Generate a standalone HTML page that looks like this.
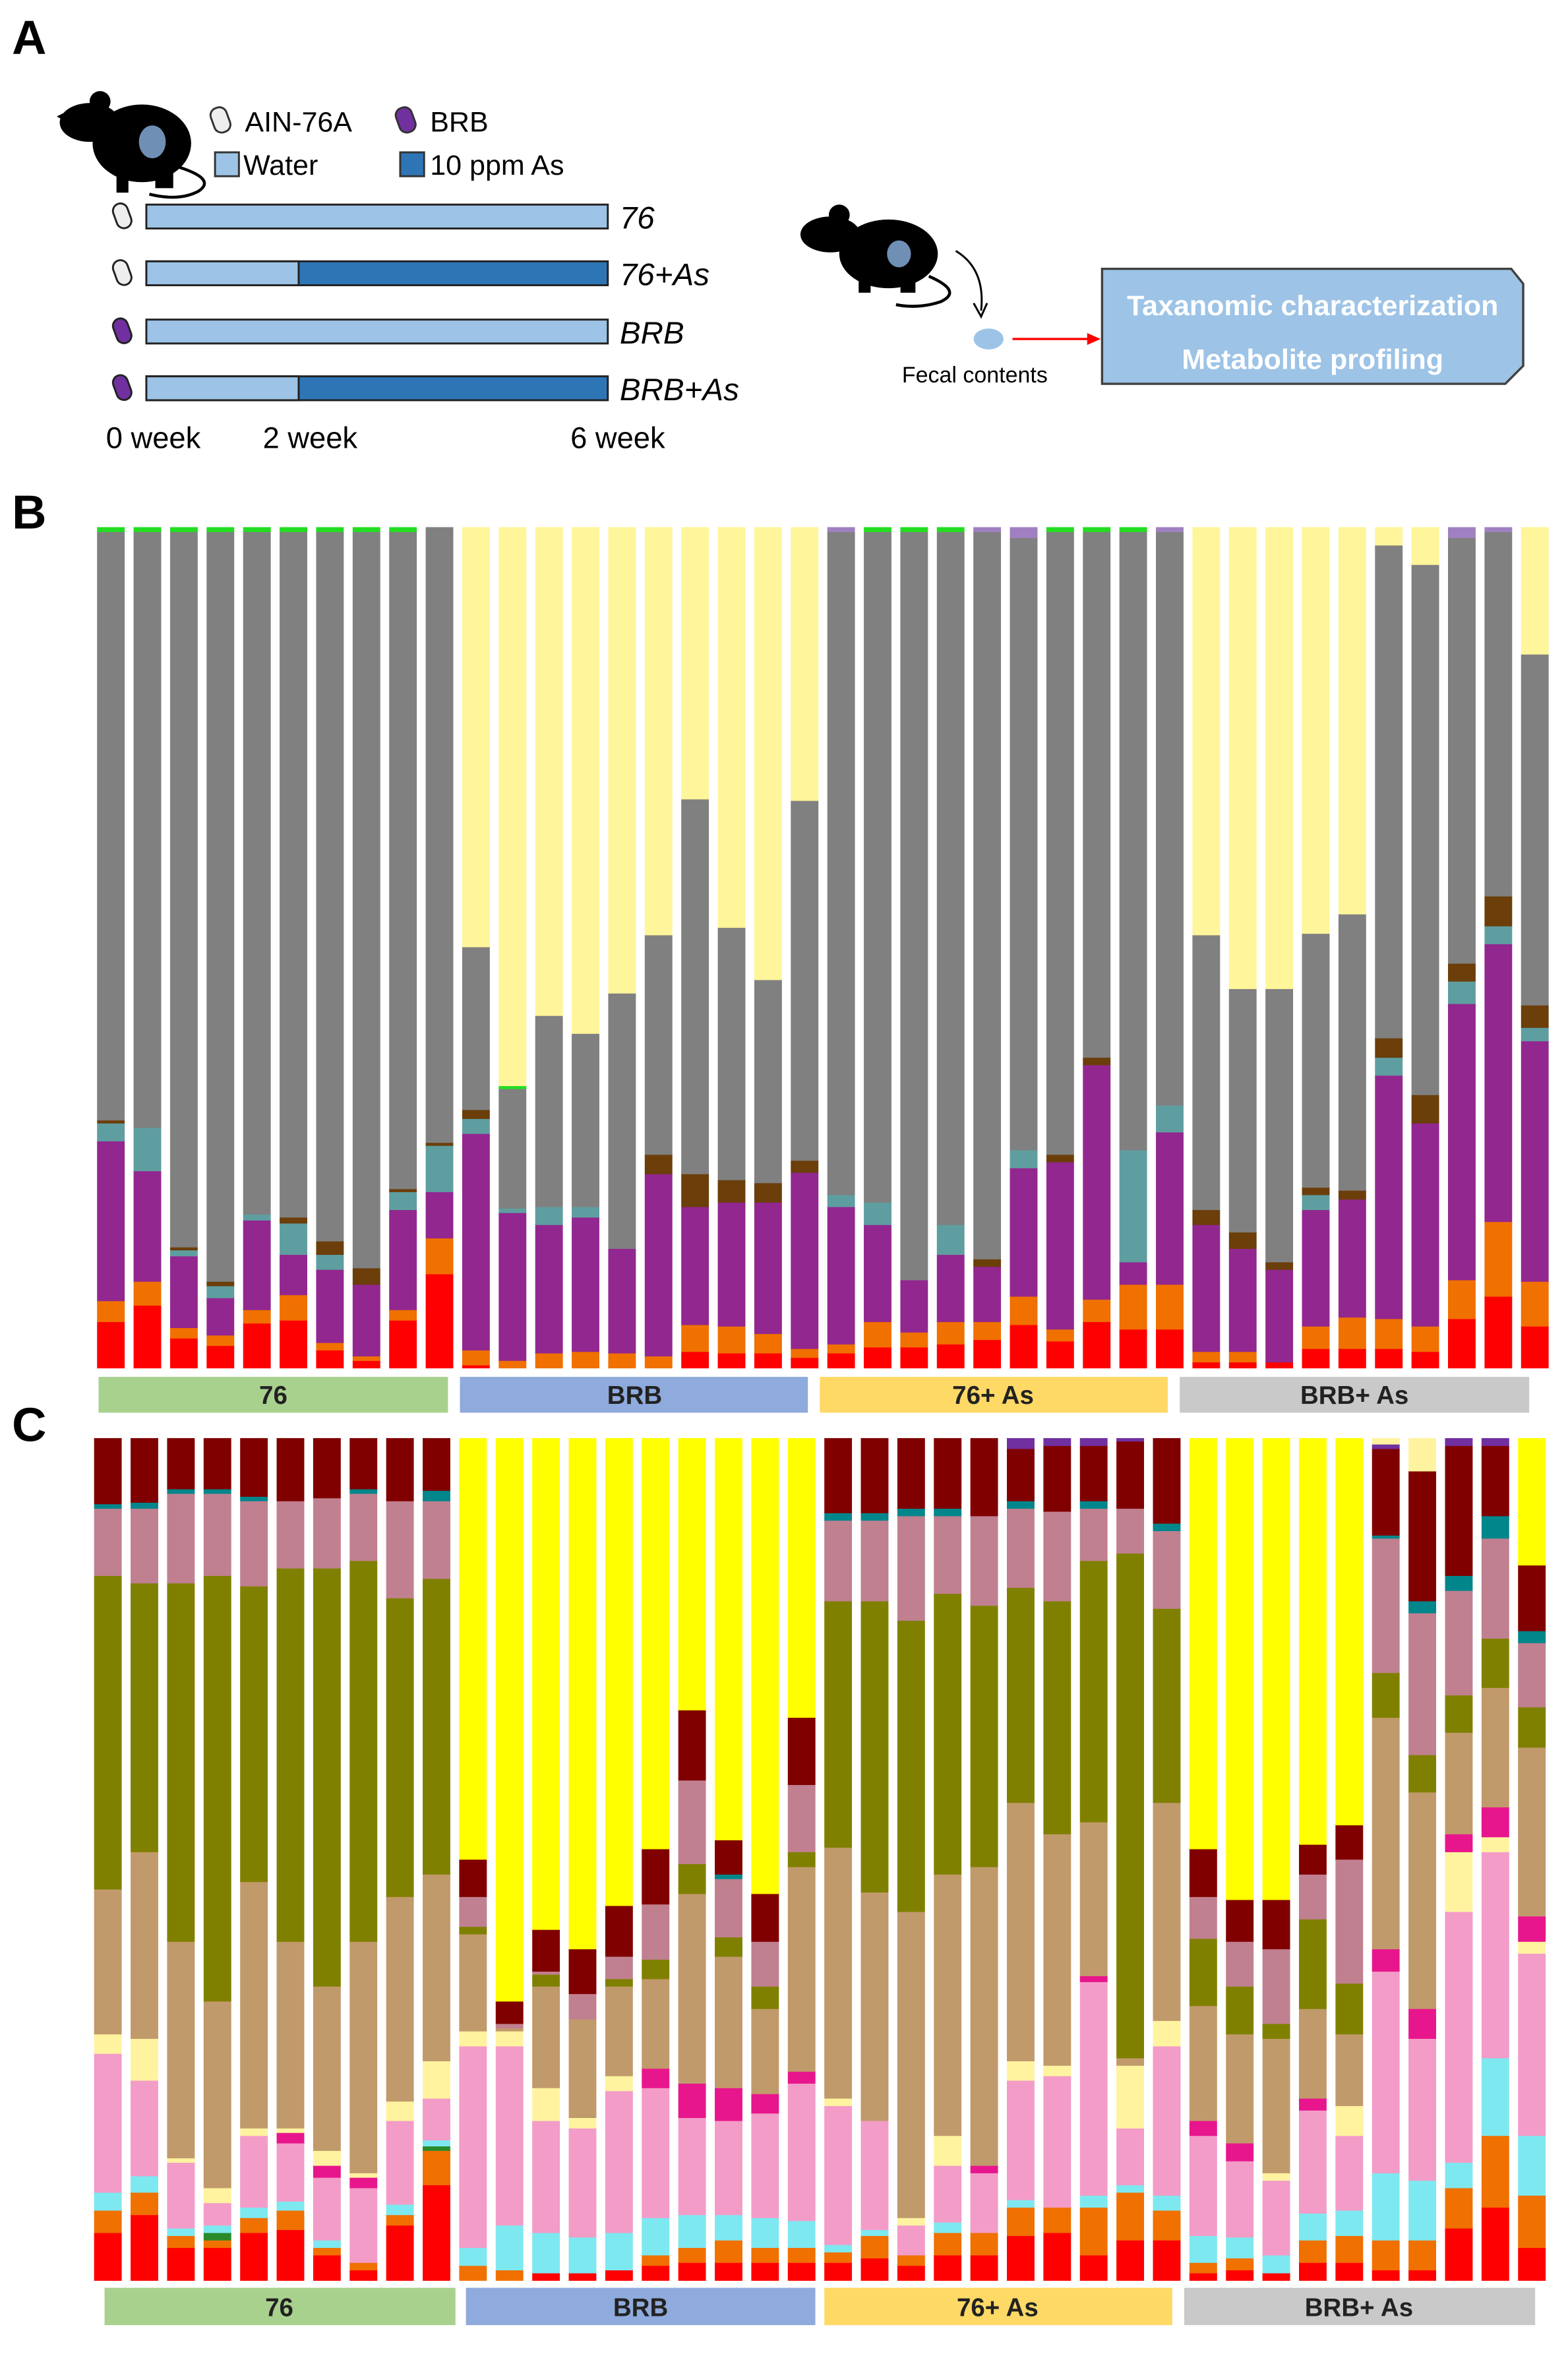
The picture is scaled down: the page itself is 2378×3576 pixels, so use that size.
<!DOCTYPE html>
<html><head><meta charset="utf-8"><style>
html,body{margin:0;padding:0;background:#fff;}
svg{display:block;}
text{font-family:"Liberation Sans",Arial,sans-serif;}
</style></head><body>
<svg id="s" width="2378" height="3576" viewBox="0 0 1050 1579" preserveAspectRatio="none" xmlns="http://www.w3.org/2000/svg">
<rect width="1050" height="1579" fill="#fff"/>
<text x="8" y="36" font-size="32" font-weight="bold">A</text>
<text x="8" y="354" font-size="32" font-weight="bold">B</text>
<text x="8" y="965" font-size="32" font-weight="bold">C</text>
<g fill="#000">
<ellipse cx="95" cy="96" rx="33" ry="26"/>
<ellipse cx="60" cy="82" rx="20" ry="13"/>
<circle cx="67" cy="68" r="7"/>
<path d="M38,78 L50,72 L52,86 Z"/>
<rect x="78" y="115" width="8" height="14"/>
<rect x="104" y="112" width="12" height="14"/>
</g>
<ellipse cx="102" cy="95" rx="9" ry="11" fill="#6f8fb5"/>
<path d="M120,112 Q145,120 133,128 Q120,135 100,130" fill="none" stroke="#000" stroke-width="2"/>
<g stroke="#333" stroke-width="1.3">
<rect x="142" y="72" width="11" height="17" rx="5" fill="#eee" transform="rotate(-20 147 80)"/>
<rect x="266" y="72" width="11" height="17" rx="5" fill="#7030a0" transform="rotate(-20 271 80)"/>
<rect x="144" y="102" width="16" height="16" fill="#9dc3e6"/>
<rect x="268" y="102" width="16" height="16" fill="#2e75b6"/>
</g>
<text x="164" y="88" font-size="19">AIN-76A</text>
<text x="288" y="88" font-size="19">BRB</text>
<text x="163" y="117" font-size="19">Water</text>
<text x="288" y="117" font-size="19">10 ppm As</text>
<g stroke="#222" stroke-width="1.3">
<rect x="98" y="137" width="309" height="16" fill="#9dc3e6"/>
<rect x="98" y="175" width="309" height="16" fill="#2e75b6"/><rect x="98" y="175" width="102" height="16" fill="#9dc3e6"/>
<rect x="98" y="214" width="309" height="16" fill="#9dc3e6"/>
<rect x="98" y="252" width="309" height="16" fill="#2e75b6"/><rect x="98" y="252" width="102" height="16" fill="#9dc3e6"/>
<rect x="77" y="136" width="10" height="17" rx="5" fill="#eee" transform="rotate(-20 82 145)"/>
<rect x="77" y="174" width="10" height="17" rx="5" fill="#eee" transform="rotate(-20 82 183)"/>
<rect x="77" y="213" width="10" height="17" rx="5" fill="#7030a0" transform="rotate(-20 82 222)"/>
<rect x="77" y="251" width="10" height="17" rx="5" fill="#7030a0" transform="rotate(-20 82 260)"/>
</g>
<g font-size="21" font-style="italic">
<text x="415" y="153">76</text><text x="415" y="191">76+As</text><text x="415" y="230">BRB</text><text x="415" y="268">BRB+As</text>
</g>
<g font-size="20"><text x="71" y="300">0 week</text><text x="176" y="300">2 week</text><text x="382" y="300">6 week</text></g>
<g fill="#000">
<ellipse cx="595" cy="170" rx="33" ry="23"/>
<ellipse cx="556" cy="157" rx="20" ry="12"/>
<circle cx="562" cy="144" r="7"/>
<rect x="575" y="185" width="8" height="11"/><rect x="603" y="185" width="10" height="11"/>
</g>
<ellipse cx="602" cy="170" rx="8" ry="9" fill="#6f8fb5"/>
<path d="M622,185 Q645,195 630,202 Q615,207 600,204" fill="none" stroke="#000" stroke-width="2"/>
<path d="M640,168 Q660,180 657,208" fill="none" stroke="#000" stroke-width="1.3"/>
<path d="M652,203 L657,212 L661,203" fill="none" stroke="#000" stroke-width="1.3"/>
<ellipse cx="662" cy="227" rx="10" ry="7" fill="#9dc3e6"/>
<text x="604" y="256" font-size="15">Fecal contents</text>
<line x1="678" y1="227" x2="730" y2="227" stroke="#f00" stroke-width="1.5"/>
<path d="M728,223 L737,227 L728,231 Z" fill="#f00"/>
<path d="M738,180 L1012,180 L1020,190 L1020,245 L1008,257 L738,257 Z" fill="#9dc3e6" stroke="#404040" stroke-width="1.5"/>
<g font-size="19" font-weight="bold" fill="#fff" text-anchor="middle">
<text x="879" y="211">Taxanomic characterization</text><text x="879" y="247">Metabolite profiling</text></g>
<g id="B"></g><g id="C"></g>
<rect x="66" y="922" width="234" height="24" fill="#a9d18e"/>
<rect x="308" y="922" width="233" height="24" fill="#8faadc"/>
<rect x="549" y="922" width="233" height="24" fill="#ffd966"/>
<rect x="790" y="922" width="234" height="24" fill="#c9c9c9"/>
<rect x="70" y="1532" width="235" height="25" fill="#a9d18e"/>
<rect x="312" y="1532" width="234" height="25" fill="#8faadc"/>
<rect x="552" y="1532" width="233" height="25" fill="#ffd966"/>
<rect x="793" y="1532" width="235" height="25" fill="#c9c9c9"/>
<g font-size="17" font-weight="bold" text-anchor="middle" fill="#222">
<text x="183" y="940">76</text><text x="425" y="940">BRB</text><text x="665" y="940">76+ As</text><text x="907" y="940">BRB+ As</text>
<text x="187" y="1551">76</text><text x="429" y="1551">BRB</text><text x="668" y="1551">76+ As</text><text x="910" y="1551">BRB+ As</text>
</g>
</svg>
<script>
var cb={r:"#ff0000",o:"#f07000",p:"#92278f",t:"#5f9ea0",b:"#6b3e0a",g:"#808080",y:"#fff59a",G:"#22dd22",V:"#a080c0"};
var cc={r:"#ff0000",o:"#f07000",n:"#2a8a2a",c:"#7ee8f0",l:"#fff3a0",k:"#f39cc8",m:"#e8168c",a:"#c19a6b",v:"#808000",u:"#c08090",t:"#00868b",d:"#800000",p:"#7030a0",y:"#ffff00"};
var B=["r885 o871 p764 t752 b750 g356 G353","r874 o858 p784 t755 g356 G353","r896 o889 p841 t837 b835 g356 G353","r901 o894 p869 t861 b858 g356 G353","r886 o877 p817 t813 g356 G353","r884 o867 p840 t819 b815 g356 G353","r904 o899 p850 t840 b831 g356 G353","r911 o908 p860 b849 g356 G353","r884 o877 p810 t798 b796 g356 G353","r853 o829 p798 t767 b765 g353",
"r914 o904 p759 t749 b743 g634 y353","o911 p812 t809 g729 G727 y353","o906 p820 t808 g680 y353","o905 p815 t808 g692 y353","o906 p836 g665 y353","o908 p786 b773 g626 y353","r905 o887 p808 b786 g535 y353","r906 o888 p805 b790 g621 y353","r906 o893 p805 b792 g656 y353","r909 o903 p785 b777 g536 y353",
"r906 o900 p808 t800 g356 V353","r902 o885 p820 t805 g356 G353","r902 o892 p857 g356 G353","r900 o885 p840 t820 g356 G353","r897 o885 p848 b843 g356 V353","r887 o868 p782 t770 g360 V353","r898 o890 p778 b773 g356 G353","r885 o870 p713 b708 g356 G353","r890 o860 p845 t770 g356 G353","r890 o860 p758 t740 g356 V353",
"r912 o905 p820 b810 g626 y353","r912 o905 p836 b825 g662 y353","r912 p850 b845 g662 y353","r903 o888 p810 t800 b795 g625 y353","r903 o882 p803 b797 g612 y353","r903 o883 p720 t708 b695 g365 y353","r905 o888 p752 b733 g378 y353","r883 o857 p672 t657 b645 g360 V353","r868 o818 p632 t620 b600 g356 V353","r888 o858 p697 t688 b673 g438 y353"];
var C=["r1495 o1480 c1468 k1375 l1362 a1265 v1055 u1010 t1007 d963","r1483 o1468 c1457 k1393 l1365 a1240 v1060 u1010 t1006 d963","r1505 o1497 c1492 k1448 l1445 a1300 v1060 u1000 t997 d963","r1505 o1500 n1495 c1490 k1475 l1465 a1340 v1055 u1000 t997 d963","r1495 o1485 c1478 k1430 l1425 a1260 v1062 u1005 t1002 d963","r1493 o1480 c1474 k1435 m1428 l1425 a1300 v1050 u1005 d963","r1510 o1505 c1500 k1458 m1450 l1440 a1330 v1050 u1003 d963","r1520 o1515 k1465 m1458 l1455 a1300 v1045 u1000 t997 d963","r1490 o1483 c1476 k1420 l1407 a1270 v1070 u1005 d963","r1463 o1440 n1437 c1433 k1405 l1380 a1255 v1057 u1005 t998 d963",
"o1517 c1505 k1370 l1360 a1295 v1290 u1270 d1245 y963","o1520 c1490 k1370 l1360 a1358 u1355 d1340 y963","r1522 c1495 k1420 l1398 a1330 v1322 u1320 d1292 y963","r1522 c1498 k1425 l1418 a1352 u1335 d1305 y963","r1520 c1495 k1400 l1390 a1330 v1325 u1310 d1276 y963","r1517 o1510 c1485 k1398 m1385 a1325 v1312 u1275 d1238 y963","r1515 o1505 c1483 k1418 m1395 a1268 v1248 u1192 d1145 y963","r1515 o1500 c1483 k1420 m1398 a1310 v1297 u1258 t1255 d1232 y963","r1515 o1505 c1485 k1415 m1402 a1345 v1330 u1300 d1268 y963","r1515 o1505 c1487 k1395 m1387 a1250 v1240 u1195 d1150 y963",
"r1515 o1508 c1503 k1410 l1405 a1237 v1072 u1018 t1013 d963","r1512 o1497 c1493 k1420 a1267 v1072 u1018 t1013 d963","r1517 o1510 k1490 l1485 a1280 v1085 u1015 t1010 d963","r1510 o1495 c1488 k1450 l1430 a1255 v1067 u1015 t1010 d963","r1510 o1495 k1455 m1450 a1250 v1075 u1015 d963","r1497 o1478 c1473 k1393 l1380 a1207 v1063 u1010 t1005 d970 p963","r1495 o1478 k1390 l1383 a1228 v1072 u1012 d968 p963","r1510 o1478 c1470 k1327 m1323 a1220 v1045 u1010 t1005 d968 p963","r1500 o1468 c1463 k1425 l1383 a1378 v1040 u1010 d965 p963","r1500 o1480 c1470 k1370 l1353 a1207 v1077 u1025 t1020 d963",
"r1522 o1515 c1497 k1430 m1420 a1343 v1298 u1270 d1238 y963","r1520 o1512 c1498 k1447 m1435 a1362 v1330 u1300 d1272 y963","r1522 c1510 k1460 l1455 a1365 v1355 u1305 d1272 y963","r1515 o1500 c1482 k1413 m1405 a1345 v1285 u1255 d1235 y963","r1515 o1497 c1480 k1430 l1410 a1362 v1328 u1245 d1222 y963","r1520 o1500 c1455 k1320 m1305 a1150 v1120 u1030 t1028 d970 p967 l963","r1520 o1500 c1460 k1365 m1345 a1200 v1175 u1080 t1072 d985 l963","r1492 o1465 c1448 k1280 l1240 m1228 a1160 v1135 u1065 t1055 d968 p963","r1478 o1430 c1378 k1240 l1230 m1210 a1130 v1097 u1030 t1015 d968 p963","r1505 o1470 c1430 k1308 l1300 m1283 a1170 v1143 u1100 t1092 d1048 y963"];
function draw(id,data,cols,bottom,x0,pitch,w){
 var g=document.getElementById(id),h="";
 data.forEach(function(s,i){var x=x0+i*pitch,prev=bottom;
  s.split(" ").forEach(function(t){var k=t[0],y=parseFloat(t.slice(1));
   h+='<rect x="'+x.toFixed(2)+'" y="'+y+'" width="'+w+'" height="'+(prev-y+0.3).toFixed(2)+'" fill="'+cols[k]+'"/>';prev=y;});
 });
 g.innerHTML=h;
}
draw("B",B,cb,916,65,24.45,18.5);
draw("C",C,cc,1527,63,24.45,18.5);
</script>
</body></html>
